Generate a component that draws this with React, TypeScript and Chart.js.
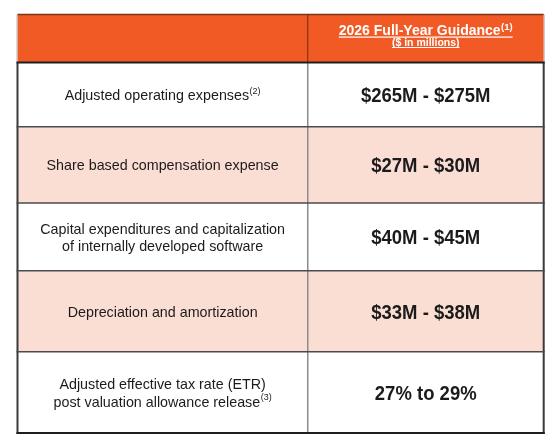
import { useEffect, useRef } from 'react';
import { Chart, registerables } from 'chart.js';

Chart.register(...registerables);

// ---- data ----
const columnHeader = '2026 Full-Year Guidance';
const columnHeaderNote = '(1)';
const columnSubheader = '($ in millions)';
const metricLines: string[][] = [
  ['Adjusted operating expenses'],
  ['Share based compensation expense'],
  ['Capital expenditures and capitalization', 'of internally developed software'],
  ['Depreciation and amortization'],
  ['Adjusted effective tax rate (ETR)', 'post valuation allowance release'],
];
const metricNotes = ['(2)', '', '', '', '(3)'];
const guidanceValues = ['$265M - $275M', '$27M - $30M', '$40M - $45M', '$33M - $38M', '27% to 29%'];

// ---- layout / style ----
const rowHeights = [48, 64.2, 76.3, 67.7, 81, 81.3];
const labelColumnShare = 0.5516;
const FONT = '"Liberation Sans", Arial, Helvetica, sans-serif';
const ORANGE = '#F15A24';
const PINK = '#FBDED3';
const TEXT = '#1b1b1b';

const rowBounds = rowHeights.reduce<number[]>((acc, h) => {
  acc.push(acc[acc.length - 1] + h);
  return acc;
}, [0]);

function drawWithSup(
  ctx: CanvasRenderingContext2D,
  text: string,
  sup: string,
  cx: number,
  baseline: number,
  mainFont: string,
  supFont: string,
  raise: number,
  underline?: { offset: number; width: number }
) {
  ctx.font = mainFont;
  const w1 = ctx.measureText(text).width;
  ctx.font = supFont;
  const w2 = sup ? ctx.measureText(sup).width + 0.5 : 0;
  const start = cx - (w1 + w2) / 2;
  ctx.textAlign = 'left';
  ctx.textBaseline = 'alphabetic';
  ctx.font = mainFont;
  ctx.fillText(text, start, baseline);
  if (sup) {
    ctx.font = supFont;
    ctx.fillText(sup, start + w1 + 0.5, baseline - raise);
  }
  if (underline) {
    ctx.fillRect(start, baseline + underline.offset, w1 + w2, underline.width);
  }
}

const tablePlugin = {
  id: 'guidanceTable',
  beforeDraw(chart: Chart) {
    const { ctx } = chart;
    const x = chart.scales.x;
    const y = chart.scales.y;
    const xl = x.getPixelForValue(0);
    const xm = x.getPixelForValue(labelColumnShare);
    const xr = x.getPixelForValue(1);
    const ys = rowBounds.map((v) => y.getPixelForValue(v));
    ctx.save();

    // cell fills
    for (let i = 0; i < rowHeights.length; i++) {
      ctx.fillStyle = i === 0 ? ORANGE : i % 2 === 0 ? PINK : '#ffffff';
      ctx.fillRect(xl, ys[i], xr - xl, ys[i + 1] - ys[i]);
    }

    // header borders
    ctx.strokeStyle = '#7a3418';
    ctx.lineWidth = 1.5;
    ctx.beginPath();
    ctx.moveTo(xl, ys[0]);
    ctx.lineTo(xr, ys[0]);
    ctx.stroke();
    ctx.strokeStyle = '#b5b5b5';
    ctx.lineWidth = 1;
    ctx.beginPath();
    ctx.moveTo(xl - 0.5, ys[0]);
    ctx.lineTo(xl - 0.5, ys[1]);
    ctx.moveTo(xr + 0.5, ys[0]);
    ctx.lineTo(xr + 0.5, ys[1]);
    ctx.stroke();
    ctx.strokeStyle = '#6a2e14';
    ctx.lineWidth = 1;
    ctx.beginPath();
    ctx.moveTo(xm, ys[0]);
    ctx.lineTo(xm, ys[1]);
    ctx.stroke();

    // body vertical lines
    const last = ys[ys.length - 1];
    ctx.strokeStyle = '#8c8c8c';
    ctx.lineWidth = 1.5;
    ctx.beginPath();
    ctx.moveTo(xm, ys[1]);
    ctx.lineTo(xm, last);
    ctx.stroke();
    ctx.strokeStyle = '#3a3a3a';
    ctx.lineWidth = 2;
    ctx.beginPath();
    ctx.moveTo(xl, ys[1]);
    ctx.lineTo(xl, last + 1);
    ctx.moveTo(xr, ys[1]);
    ctx.lineTo(xr, last + 1);
    ctx.stroke();

    // horizontal lines
    for (let i = 1; i < ys.length; i++) {
      const edge = i === 1 || i === ys.length - 1;
      ctx.strokeStyle = edge ? '#1e1e1e' : '#4a4a4a';
      ctx.lineWidth = edge ? 2 : 1.5;
      ctx.beginPath();
      ctx.moveTo(xl - 1, ys[i]);
      ctx.lineTo(xr + 1, ys[i]);
      ctx.stroke();
    }

    // header text
    const c2 = (xm + xr) / 2;
    const c1 = (xl + xm) / 2;
    ctx.fillStyle = '#ffffff';
    drawWithSup(ctx, columnHeader, columnHeaderNote, c2, ys[0] + 20.5, `bold 14px ${FONT}`, `bold 9.5px ${FONT}`, 5.5, { offset: 1.5, width: 1.2 });
    drawWithSup(ctx, columnSubheader, '', c2, ys[0] + 31, `bold 10.5px ${FONT}`, `bold 9px ${FONT}`, 0, { offset: 1.5, width: 1 });

    // body text
    for (let r = 0; r < metricLines.length; r++) {
      const top = ys[r + 1];
      const bot = ys[r + 2];
      const mid = (top + bot) / 2;
      const lines = metricLines[r];
      const lh = 17.5;
      ctx.fillStyle = TEXT;
      lines.forEach((line, k) => {
        const base = mid + 5.5 + (k - (lines.length - 1) / 2) * lh;
        const sup = k === lines.length - 1 ? metricNotes[r] : '';
        drawWithSup(ctx, line, sup, c1, base, `14.3px ${FONT}`, `9px ${FONT}`, 6.5);
      });
      ctx.font = `bold 18.5px ${FONT}`;
      ctx.textAlign = 'center';
      ctx.textBaseline = 'alphabetic';
      ctx.save();
      ctx.translate(c2, mid + 7.5);
      ctx.scale(1, 1.12);
      ctx.fillText(guidanceValues[r], 0, 0);
      ctx.restore();
    }
    ctx.restore();
  },
};

export default function App() {
  const canvasRef = useRef<HTMLCanvasElement | null>(null);

  useEffect(() => {
    if (!canvasRef.current) return;
    const chart = new Chart(canvasRef.current, {
      type: 'scatter',
      data: {
        labels: metricLines.map((l) => l.join(' ')),
        datasets: [
          {
            label: columnHeader,
            data: guidanceValues.map((_, i) => ({ x: labelColumnShare, y: rowBounds[i + 1] })),
            pointRadius: 0,
            pointHoverRadius: 0,
            showLine: false,
          },
        ],
      },
      options: {
        responsive: true,
        maintainAspectRatio: false,
        animation: false,
        events: [],
        layout: { padding: { left: 9.5, right: 8.3, top: 6.5, bottom: 6 } },
        plugins: {
          legend: { display: false },
          tooltip: { enabled: false },
          title: { display: false },
        },
        scales: {
          x: { type: 'linear', min: 0, max: 1, display: false },
          y: { type: 'linear', min: 0, max: rowBounds[rowBounds.length - 1], reverse: true, display: false },
        },
      },
      plugins: [tablePlugin],
    });
    return () => chart.destroy();
  }, []);

  return (
    <div style={{ width: 544, height: 431, position: 'relative' }}>
      <canvas ref={canvasRef} />
    </div>
  );
}
